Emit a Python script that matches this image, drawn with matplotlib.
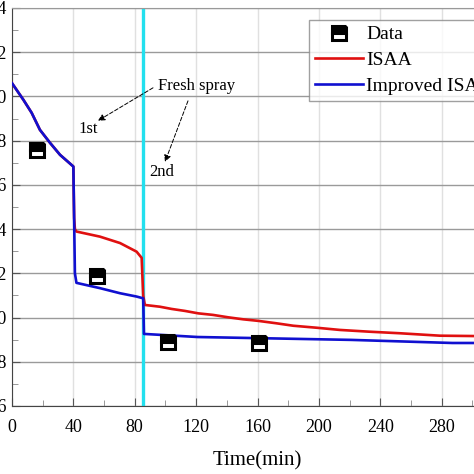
import matplotlib
matplotlib.use("Agg")
import matplotlib.pyplot as plt
from matplotlib.ticker import MultipleLocator, FormatStrFormatter

plt.rcParams['font.family'] = ['Liberation Serif', 'DejaVu Serif']

# ISAA model (red)
isaa_t = [0, 7.4, 12.8, 18.2, 24.8, 31.3, 40, 40.5, 41, 42, 57.3, 70.4, 81.2, 84.5, 85.5, 86.6,
          96.4, 104, 112.7, 121.4, 131, 141, 150.7, 160.5, 172.4, 183.3, 198.5, 213.7,
          233, 252.8, 278.8, 320]
isaa_v = [3.06, 2.985, 2.926, 2.849, 2.79, 2.736, 2.683, 2.45, 2.40, 2.389, 2.366, 2.337, 2.298,
          2.27, 2.10, 2.057, 2.049, 2.039, 2.030, 2.019, 2.012, 2.001, 1.992, 1.985, 1.974,
          1.963, 1.954, 1.944, 1.936, 1.929, 1.918, 1.915]

# Improved ISAA model (blue)
imp_t = [0, 7.4, 12.8, 18.2, 24.8, 31.3, 40, 41, 42, 57.3, 70.4, 81.2, 85.5, 86,
         121, 221, 287, 320]
imp_v = [3.06, 2.985, 2.926, 2.849, 2.79, 2.736, 2.683, 2.20, 2.157, 2.133, 2.11, 2.095, 2.087,
         1.926, 1.912, 1.899, 1.885, 1.885]

# Measured data
data_t = [16.1, 55.6, 101.8, 161.1]
data_v = [2.758, 2.188, 1.891, 1.884]

spray_t = 85.5
x_ticks = [0, 40, 80, 120, 160, 200, 240, 280]

fig = plt.figure(figsize=(4.74, 4.74), dpi=100)
ax = fig.add_axes([12/474, 68/474, 491/474, 398/474])

ax.set_xticks(x_ticks)
ax.xaxis.set_minor_locator(MultipleLocator(20))
ax.yaxis.set_major_locator(MultipleLocator(0.2))
ax.yaxis.set_minor_locator(MultipleLocator(0.1))
ax.yaxis.set_major_formatter(FormatStrFormatter('%.1f'))
ax.set_xlim(0, 320)
ax.set_ylim(1.6, 3.4)
ax.tick_params(which='both', direction='in', labelsize=13)
ax.tick_params(axis='y', which='major', length=6, pad=4, color='#555555')
ax.tick_params(axis='y', which='minor', length=4, color='#888888')
ax.tick_params(axis='x', which='major', length=6, pad=9, color='#555555')
ax.tick_params(axis='x', which='minor', length=4, color='#888888')

ax.grid(True, axis='y', which='major', color='#9a9a9a', linewidth=1.0)
ax.grid(True, axis='x', which='major', color='#e0e0e0', linewidth=1.0)
ax.set_axisbelow(True)
for s in ['top', 'right']:
    ax.spines[s].set_color('#999999')
ax.spines['left'].set_color('#444444')
ax.spines['bottom'].set_color('#444444')

ax.axvline(spray_t, color='#22e0ee', linewidth=2.4, zorder=2)
ax.plot(isaa_t, isaa_v, color='#e01010', linewidth=1.9, label='ISAA', zorder=3)
ax.plot(imp_t, imp_v, color='#1010d0', linewidth=1.9, label='Improved ISAA', zorder=4)
ax.plot(data_t, data_v, linestyle='none', marker='s', markersize=9.5,
        fillstyle='top', markerfacecolor='black', markerfacecoloralt='white',
        markeredgecolor='black', markeredgewidth=2.2, label='Data', zorder=5)

arrow = dict(arrowstyle='-|>', linestyle=(0, (4, 2)), color='black', linewidth=0.7,
             mutation_scale=10, shrinkA=0, shrinkB=0)
ax.text(120, 3.048, 'Fresh spray', fontsize=12, ha='center', va='center')
ax.annotate('', xy=(56, 2.89), xytext=(91.9, 3.039), arrowprops=arrow)
ax.text(50, 2.853, '1st', fontsize=12, ha='center', va='center')
ax.annotate('', xy=(99.7, 2.704), xytext=(114.7, 2.98), arrowprops=arrow)
ax.text(97.7, 2.659, '2nd', fontsize=12, ha='center', va='center')

handles, labels = ax.get_legend_handles_labels()
order = [2, 0, 1]
leg = ax.legend([handles[i] for i in order], [labels[i] for i in order],
                loc='upper left', bbox_to_anchor=((309-12)/491, (406-20)/398),
                fontsize=14, frameon=True, fancybox=False, handlelength=2.5,
                handletextpad=0.15, borderpad=0.3, labelspacing=0.42, borderaxespad=0)
leg.get_frame().set_edgecolor('#888888')
leg.get_frame().set_linewidth(1.0)

ax.set_xlabel('Time(min)', fontsize=15, labelpad=11)

fig.savefig('out.png', dpi=100)
